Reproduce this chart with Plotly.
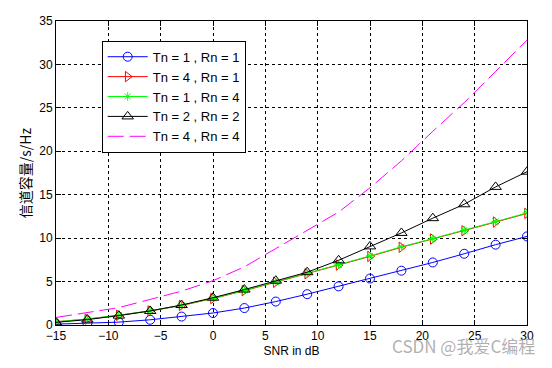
import plotly.graph_objects as go

snr = [-15, -12, -9, -6, -3, 0, 3, 6, 9, 12, 15, 18, 21, 24, 27, 30]
c11 = [0.1, 0.2, 0.33, 0.6, 0.97, 1.38, 1.95, 2.7, 3.55, 4.45, 5.35, 6.25, 7.2, 8.2, 9.25, 10.2]
c41 = [0.37, 0.68, 1.12, 1.62, 2.25, 3.05, 3.95, 4.92, 5.9, 6.9, 7.9, 8.95, 9.9, 10.85, 11.85, 12.85]
c14 = [0.37, 0.69, 1.13, 1.63, 2.27, 3.07, 3.98, 4.95, 5.93, 6.95, 7.95, 9.0, 9.95, 10.9, 11.9, 12.9]
c22 = [0.3, 0.62, 1.08, 1.62, 2.3, 3.14, 4.08, 5.1, 6.08, 7.45, 9.05, 10.6, 12.3, 13.9, 15.9, 17.65]
c44 = [0.87, 1.43, 2.0, 2.95, 3.9, 5.1, 6.7, 8.8, 10.9, 13.0, 15.8, 18.9, 22.3, 25.6, 29.2, 32.8]

names = ["Tn = 1 , Rn = 1", "Tn = 4 , Rn = 1", "Tn = 1 , Rn = 4", "Tn = 2 , Rn = 2", "Tn = 4 , Rn = 4"]

fig = go.Figure()
fig.add_trace(go.Scatter(x=snr, y=c11, name=names[0], mode="lines+markers",
                         line=dict(color="#0000ff", width=1),
                         marker=dict(symbol="circle-open", size=9, color="#0000ff", line=dict(width=1))))
fig.add_trace(go.Scatter(x=snr, y=c41, name=names[1], mode="lines+markers",
                         line=dict(color="#ff0000", width=1),
                         marker=dict(symbol="triangle-right-open", size=9, color="#ff0000", line=dict(width=1))))
fig.add_trace(go.Scatter(x=snr, y=c14, name=names[2], mode="lines+markers",
                         line=dict(color="#00ff00", width=1),
                         marker=dict(symbol="asterisk-open", size=7, color="#00ff00", line=dict(width=1, color="#00ff00"))))
fig.add_trace(go.Scatter(x=snr, y=c22, name=names[3], mode="lines+markers",
                         line=dict(color="#000000", width=1),
                         marker=dict(symbol="triangle-up-open", size=10, color="#000000", line=dict(width=1))))
fig.add_trace(go.Scatter(x=snr, y=c44, name=names[4], mode="lines",
                         line=dict(color="#ff00ff", width=1, dash="16px,6px")))

axis_common = dict(
    showline=True, linecolor="black", linewidth=1, mirror="allticks",
    ticks="inside", ticklen=5, tickcolor="black",
    showgrid=True, gridcolor="black", gridwidth=1, griddash="3px,3px",
    zeroline=False, tickfont=dict(family="Liberation Sans, Arial", size=12, color="black"),
)

fig.update_xaxes(range=[-15, 30], dtick=5, tick0=-15,
                 title=dict(text="SNR in dB", font=dict(family="Liberation Sans, Arial", size=12, color="black"), standoff=4),
                 **axis_common)
fig.update_yaxes(range=[0, 35], dtick=5, tick0=0,
                 title=dict(text="信道容量/s/Hz", font=dict(family="Noto Sans CJK SC", size=14, color="black"), standoff=4),
                 **axis_common)

fig.update_layout(
    width=552, height=368,
    margin=dict(l=56, r=25, t=21, b=39),
    paper_bgcolor="white", plot_bgcolor="white",
    showlegend=True,
    legend=dict(x=0.097, y=0.935, xanchor="left", yanchor="top",
                bgcolor="white", bordercolor="black", borderwidth=1,
                font=dict(family="Liberation Sans, Arial", size=13, color="black"),
                tracegroupgap=0, itemwidth=40),
    annotations=[dict(text="CSDN @我爱C编程", xref="paper", yref="paper",
                      x=1.021, y=-0.068, xanchor="right", yanchor="middle", showarrow=False,
                      font=dict(family="Noto Sans CJK SC", size=17, color="rgba(150,150,150,0.75)"))],
)

fig.write_html("out.html", config={"displayModeBar": False},
               post_script="document.body.style.margin='0';document.body.style.overflow='hidden';")
